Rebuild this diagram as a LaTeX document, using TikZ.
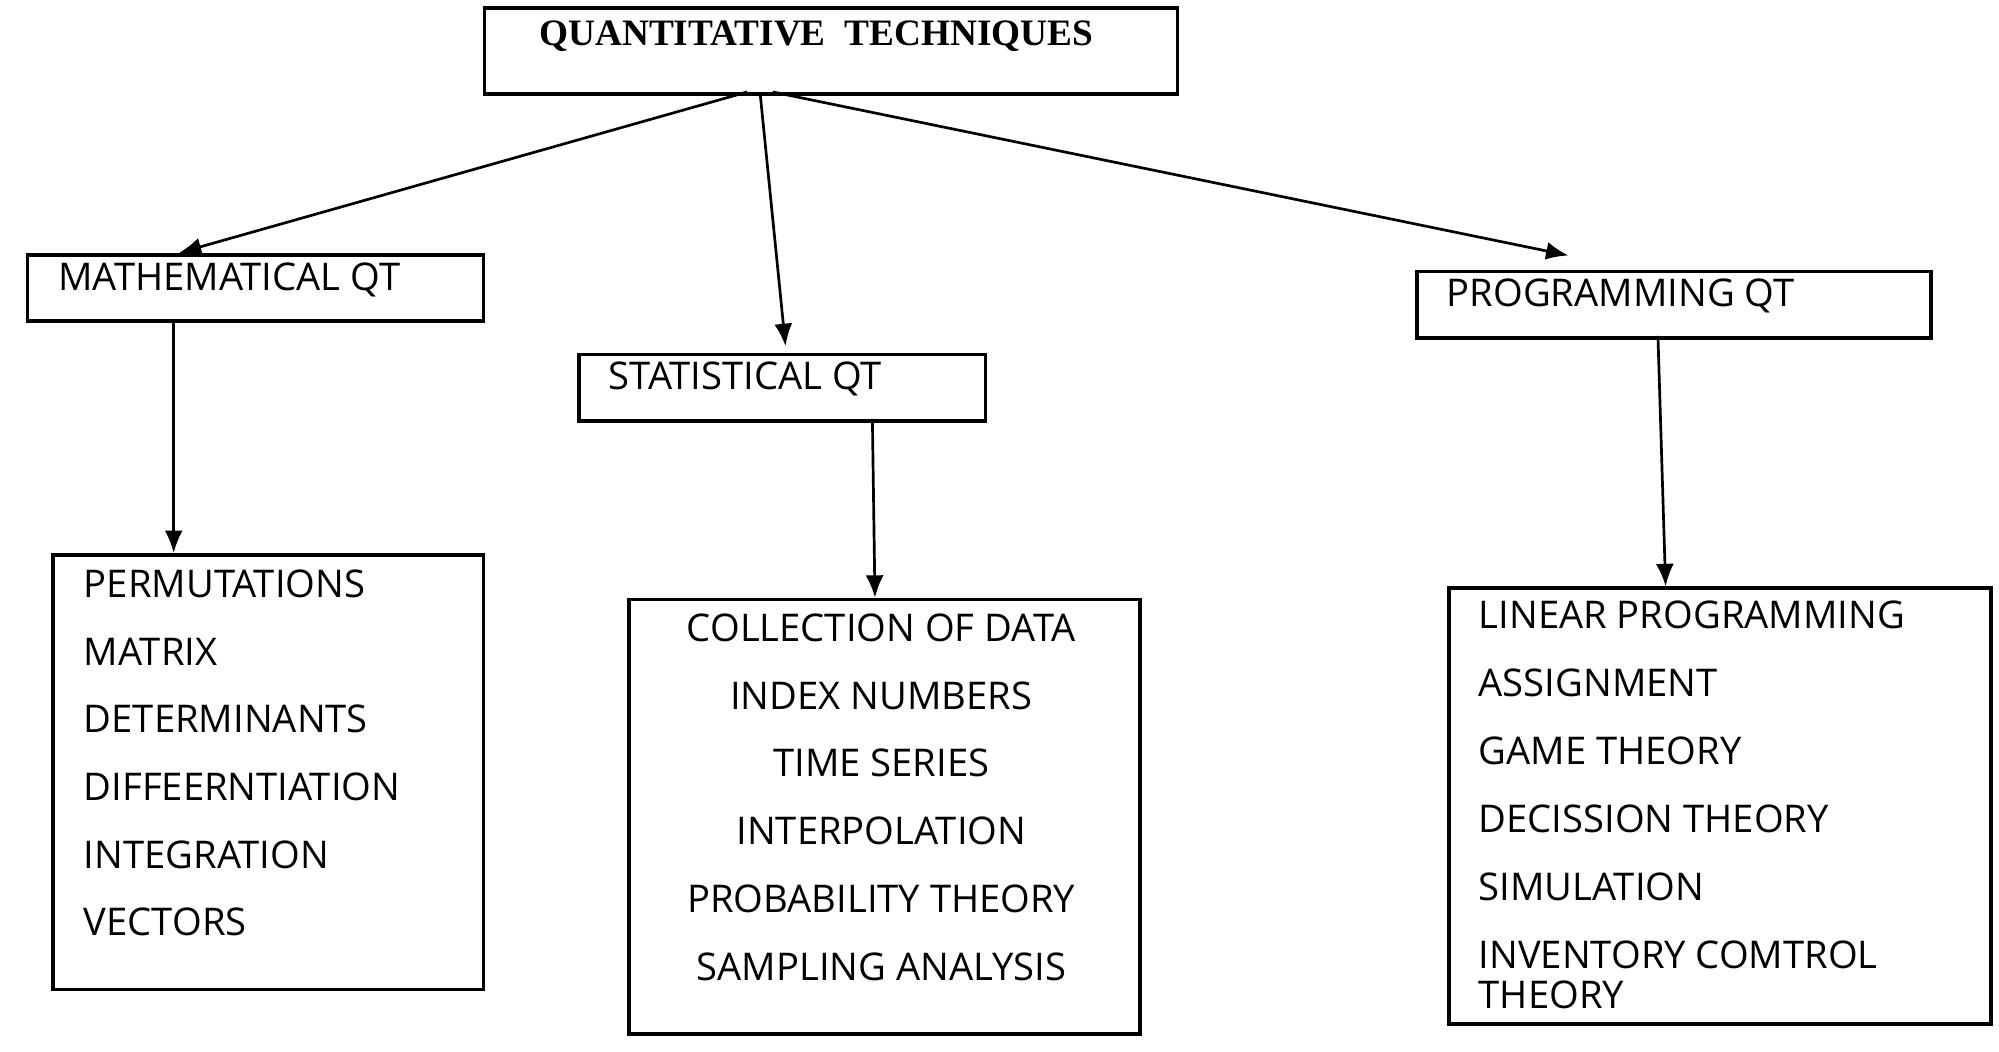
\documentclass[tikz,border=0pt]{standalone}
\usepackage{fontspec}
\setmainfont{Open Sans}
\newfontfamily\titlefont{Liberation Serif}
\usetikzlibrary{arrows.meta}
\begin{document}
\begin{tikzpicture}[x=0.01cm,y=-0.01cm,
  box/.style={draw,line width=0.8pt,inner sep=0pt},
  itm/.style={font=\fontsize{8.5}{10}\selectfont,inner sep=0pt},
  con/.style={line width=0.6pt,-{Latex[length=5pt,width=4pt]}}]
\useasboundingbox (0,0) rectangle (1565,823);
\node[box,minimum width=542\pgflinewidth,anchor=north west,minimum width=5.42cm,minimum height=0.67cm] (top) at (378,5) {};
\node[inner sep=0pt,font=\titlefont\bfseries\fontsize{8.3}{10}\selectfont] at (639,28) {QUANTITATIVE\ \ TECHNIQUES};
\node[box,anchor=north west,minimum width=3.57cm,minimum height=0.52cm] (math) at (20,198) {};
\node[box,anchor=north west,minimum width=3.18cm,minimum height=0.52cm] (stat) at (452,276) {};
\node[box,anchor=north west,minimum width=4.02cm,minimum height=0.52cm] (prog) at (1108,211) {};
\node[itm,anchor=west] at (45,219) {MATHEMATICAL QT};
\node[itm,anchor=west] at (476,297) {STATISTICAL QT};
\node[itm,anchor=west] at (1132,232) {PROGRAMMING QT};
\node[box,anchor=north west,minimum width=3.37cm,minimum height=3.40cm] (mlist) at (40,433) {};
\node[box,anchor=north west,minimum width=4.00cm,minimum height=3.40cm] (slist) at (491,468) {};
\node[box,anchor=north west,minimum width=4.24cm,minimum height=3.41cm] (plist) at (1133,459) {};
\foreach \t [count=\i] in {PERMUTATIONS,MATRIX,DETERMINANTS,DIFFEERNTIATION,INTEGRATION,VECTORS}
  \node[itm,anchor=west] (m\i) at (65,404+53*\i) {\t};
\foreach \t [count=\i] in {COLLECTION OF DATA,INDEX NUMBERS,TIME SERIES,INTERPOLATION,PROBABILITY THEORY,SAMPLING ANALYSIS}
  \node[itm] (s\i) at (690,438+53.2*\i) {\t};
\foreach \t [count=\i] in {LINEAR PROGRAMMING,ASSIGNMENT,GAME THEORY,DECISSION THEORY,SIMULATION,INVENTORY COMTROL}
  \node[itm,anchor=west] (p\i) at (1157,428+53.2*\i) {\t};
\node[itm,anchor=west] (p7) at (1157,779) {THEORY};
\coordinate (t1) at (585,72); \coordinate (t2) at (595,72); \coordinate (t3) at (605,72);
\coordinate (ma) at (140,198); \coordinate (sa) at (615,271); \coordinate (pa) at (1228,200);
\draw[con] (t1) -- (ma);
\draw[con] (t2) -- (sa);
\draw[con] (t3) -- (pa);
\coordinate (mb) at (136,250); \coordinate (mc) at (136,433);
\coordinate (sb) at (683,328); \coordinate (sc) at (685,468);
\coordinate (pb) at (1298,263); \coordinate (pc) at (1304,459);
\draw[con] (mb) -- (mc);
\draw[con] (sb) -- (sc);
\draw[con] (pb) -- (pc);
\end{tikzpicture}
\end{document}
